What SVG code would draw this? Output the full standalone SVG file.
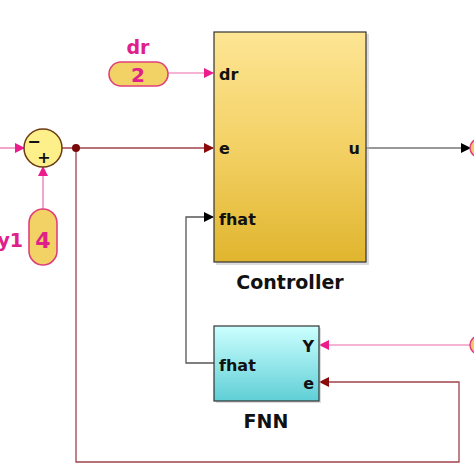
<svg xmlns="http://www.w3.org/2000/svg" width="474" height="474" viewBox="0 0 474 474">
  <defs>
    <linearGradient id="gCtrl" x1="0" y1="0" x2="0" y2="1">
      <stop offset="0" stop-color="#fde594"/>
      <stop offset="0.5" stop-color="#f3d165"/>
      <stop offset="1" stop-color="#e0b52e"/>
    </linearGradient>
    <linearGradient id="gFnn" x1="0" y1="0" x2="0" y2="1">
      <stop offset="0" stop-color="#ccffff"/>
      <stop offset="1" stop-color="#5fcfd6"/>
    </linearGradient>
    <marker id="aPink" markerWidth="10" markerHeight="10" refX="9" refY="5" orient="auto" markerUnits="userSpaceOnUse">
      <path d="M0,0 L10,5 L0,10 Z" fill="#ec1c8c"/>
    </marker>
    <marker id="aRed" markerWidth="10" markerHeight="10" refX="9" refY="5" orient="auto" markerUnits="userSpaceOnUse">
      <path d="M0,0 L10,5 L0,10 Z" fill="#8b0b0b"/>
    </marker>
    <marker id="aBlack" markerWidth="10" markerHeight="10" refX="9" refY="5" orient="auto" markerUnits="userSpaceOnUse">
      <path d="M0,0 L10,5 L0,10 Z" fill="#000"/>
    </marker>
  </defs>
  <style>
    .lbl { font-family: "DejaVu Sans", Verdana, sans-serif; font-weight: bold; fill: #111; }
    .pk { font-family: "DejaVu Sans", Verdana, sans-serif; font-weight: bold; fill: #e0208a; }
    .pill { fill: #f2d264; stroke: #e0407a; stroke-width: 1.6; }
    .pinkL { stroke: #ec6aa8; stroke-width: 1.2; fill: none; }
    .redL { stroke: #a0404c; stroke-width: 1.3; fill: none; }
    .grayL { stroke: #555; stroke-width: 1.3; fill: none; }
    .blk { stroke: #333; stroke-width: 1; fill: none; }
  </style>

  <g id="connectors">
    <line class="pinkL" x1="0" y1="148" x2="24" y2="148" marker-end="url(#aPink)"/>
    <line class="pinkL" x1="43" y1="209" x2="43" y2="167" marker-end="url(#aPink)"/>
    <line class="pinkL" x1="168" y1="73" x2="213" y2="73" marker-end="url(#aPink)"/>
    <line class="redL" x1="62" y1="148" x2="213" y2="148" marker-end="url(#aRed)"/>
    <polyline class="redL" points="76,148 76,462 459,462 459,382 320,382" marker-end="url(#aRed)"/>
    <circle cx="76" cy="148" r="4" fill="#7a0a0a"/>
    <line class="blk" x1="366" y1="148" x2="470" y2="148" marker-end="url(#aBlack)"/>
    <line class="pinkL" x1="470" y1="345" x2="320" y2="345" marker-end="url(#aPink)"/>
    <polyline class="grayL" points="214,363 186,363 186,217 213,217" marker-end="url(#aBlack)"/>
  </g>

  <g id="sum">
    <circle cx="43" cy="148" r="19" fill="#fdf08a" stroke="#6b3a10" stroke-width="1.5"/>
    <text x="34" y="147" class="lbl" font-size="16" text-anchor="middle">−</text>
    <text x="44" y="163" class="lbl" font-size="16" text-anchor="middle">+</text>
  </g>

  <g id="in-dr">
    <rect class="pill" x="109" y="62" width="59" height="24" rx="12"/>
    <text x="138" y="82" class="pk" font-size="20" text-anchor="middle">2</text>
    <text x="138" y="54" class="pk" font-size="19" text-anchor="middle">dr</text>
  </g>

  <g id="in-y1">
    <rect class="pill" x="29" y="209" width="28" height="56" rx="14"/>
    <text x="43" y="248" class="pk" font-size="22" text-anchor="middle">4</text>
    <text x="23" y="247" class="pk" font-size="19" text-anchor="end">y1</text>
  </g>

  <g id="controller">
    <rect x="216" y="34" width="153" height="231" fill="#bbb" opacity="0.5"/>
    <rect x="214" y="32" width="152" height="230" fill="url(#gCtrl)" stroke="#333" stroke-width="1.2"/>
    <text x="219" y="80" class="lbl" font-size="16">dr</text>
    <text x="219" y="154" class="lbl" font-size="16">e</text>
    <text x="219" y="225" class="lbl" font-size="16">fhat</text>
    <text x="360" y="154" class="lbl" font-size="16" text-anchor="end">u</text>
    <text x="290" y="289" class="lbl" font-size="19" text-anchor="middle">Controller</text>
  </g>

  <g id="fnn">
    <rect x="216" y="328" width="105" height="75" fill="#bbb" opacity="0.5"/>
    <rect x="214" y="326" width="105" height="75" fill="url(#gFnn)" stroke="#333" stroke-width="1.2"/>
    <text x="314" y="352" class="lbl" font-size="16" text-anchor="end">Y</text>
    <text x="219" y="371" class="lbl" font-size="16">fhat</text>
    <text x="314" y="389" class="lbl" font-size="16" text-anchor="end">e</text>
    <text x="266" y="428" class="lbl" font-size="19" text-anchor="middle">FNN</text>
  </g>

  <g id="out-u">
    <rect x="470" y="139" width="20" height="18" rx="9" fill="#f6c86a" stroke="#e0407a" stroke-width="1.5"/>
  </g>
  <g id="out-Y">
    <rect x="470" y="336" width="20" height="18" rx="9" fill="#f6c86a" stroke="#e0407a" stroke-width="1.5"/>
  </g>
</svg>
